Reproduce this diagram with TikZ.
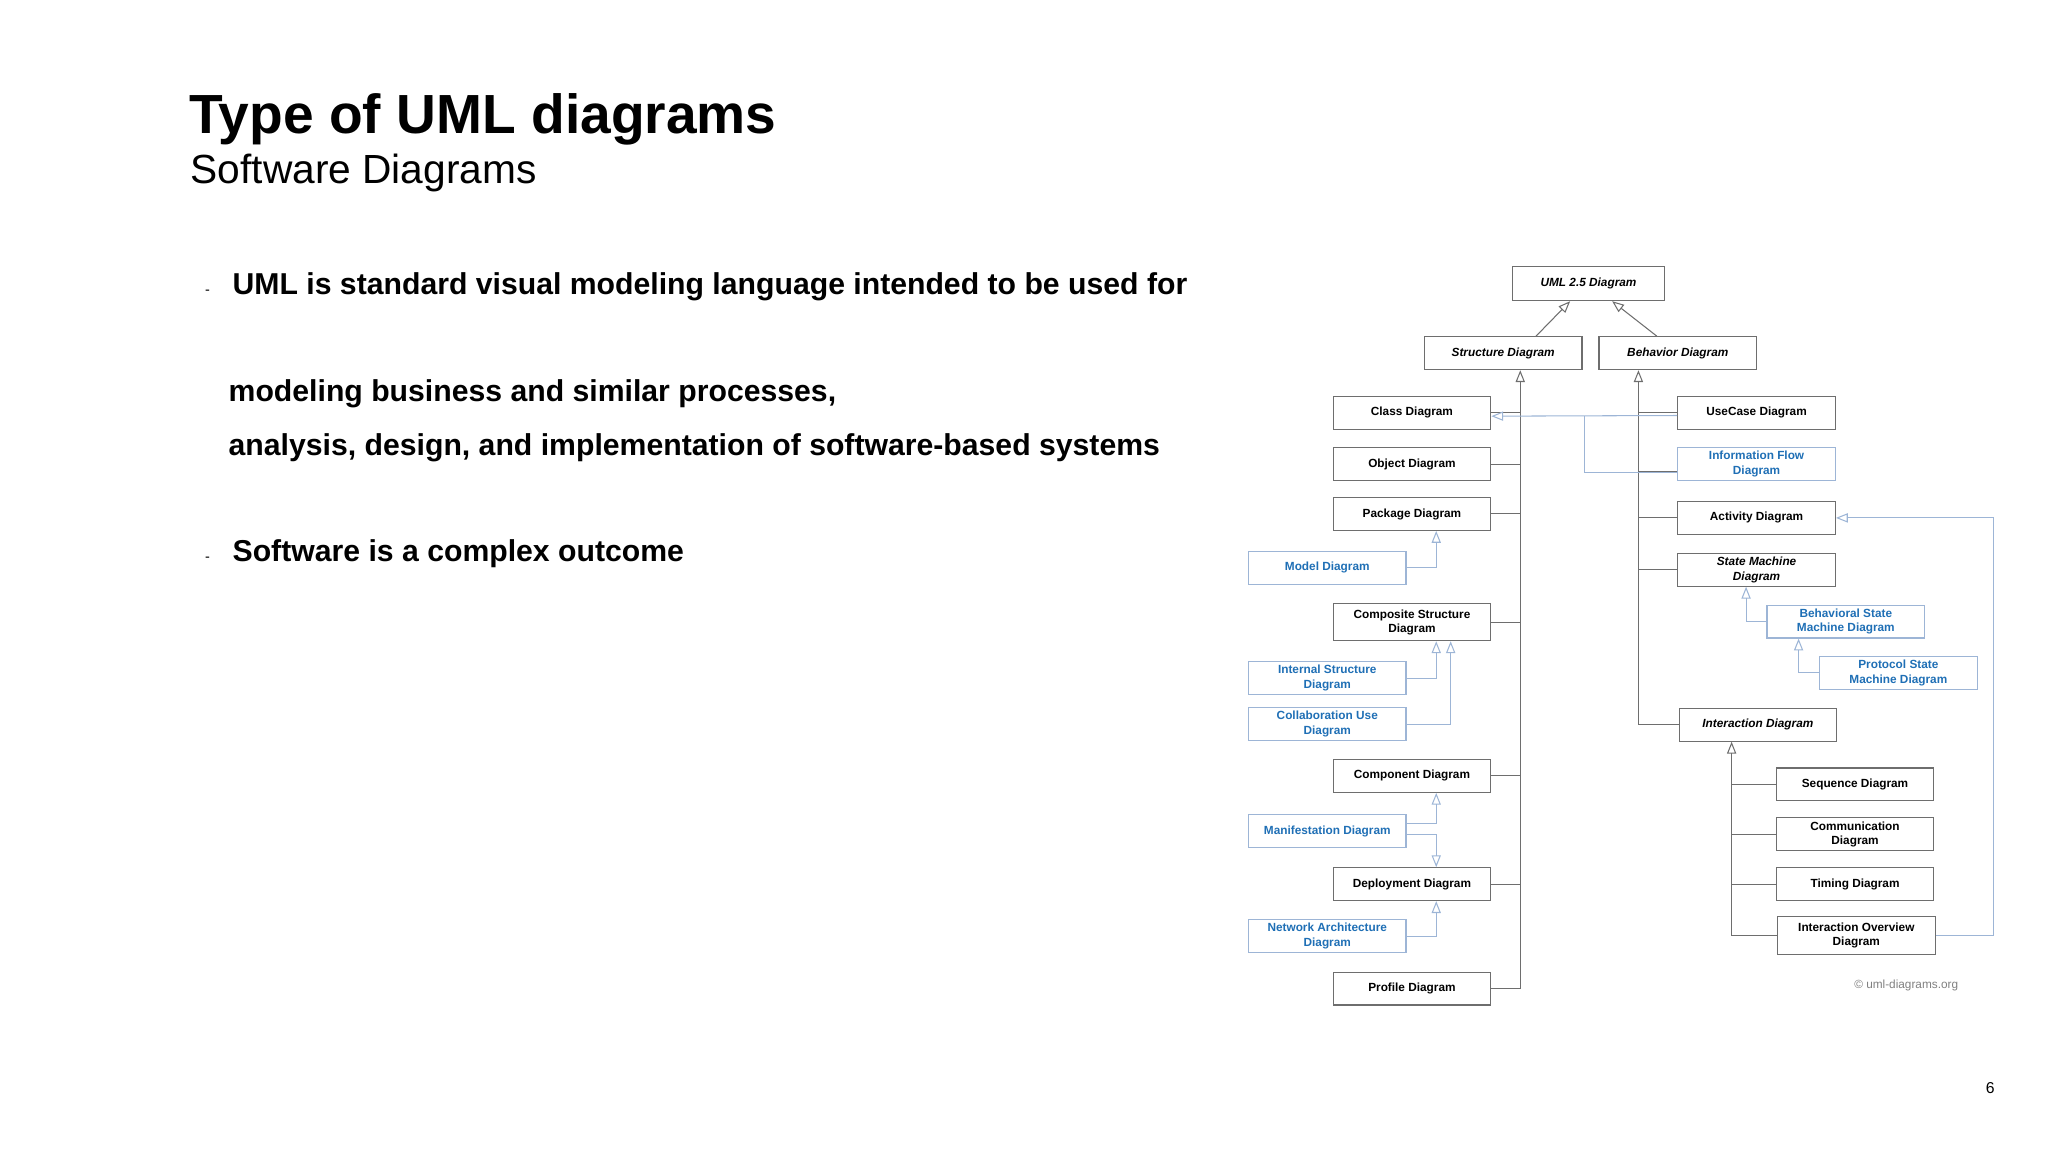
\documentclass[tikz,border=0pt]{standalone}
\usepackage{fontspec}
\setmainfont{Liberation Sans}
\usetikzlibrary{arrows.meta}
\definecolor{umlblue}{HTML}{1F6FB5}
\definecolor{umlline}{HTML}{6E6E6E}
\definecolor{umllight}{HTML}{9DB5D6}
\tikzset{
  box/.style={draw=umlline, line width=0.9pt, minimum width=120pt, minimum height=25pt, inner sep=1pt, align=center, font=\fontsize{9}{11}\selectfont\bfseries},
  sbox/.style={box, draw=umllight, text=umlblue},
  ibox/.style={box, font=\fontsize{9}{11}\selectfont\bfseries\itshape},
  link/.style={draw=umlline, line width=0.8pt},
  gen/.style={link, -{Triangle[open,length=9pt,width=7pt]}},
  blink/.style={draw=umllight, line width=0.8pt},
  bgen/.style={blink, -{Triangle[open,length=9pt,width=7pt]}},
}
\begin{document}
\begin{tikzpicture}[x=1pt,y=-1pt]
\useasboundingbox (0,0) rectangle (1560,877.5);
% slide text
\node[anchor=base west, inner sep=0, font=\fontsize{42}{48}\selectfont\bfseries] (title) at (144,102) {Type of UML diagrams};
\node[anchor=base west, inner sep=0, font=\fontsize{31}{36}\selectfont] (subtitle) at (145,140) {Software Diagrams};
\node[anchor=base west, inner sep=0, font=\fontsize{11}{13}\selectfont] (d1) at (156,224) {-};
\node[anchor=base west, inner sep=0, font=\fontsize{23}{28}\selectfont\bfseries] (p1) at (177,224) {UML is standard visual modeling language intended to be used for};
\node[anchor=base west, inner sep=0, font=\fontsize{23}{28}\selectfont\bfseries] (p2) at (174,306) {modeling business and similar processes,};
\node[anchor=base west, inner sep=0, font=\fontsize{23}{28}\selectfont\bfseries] (p3) at (174,347) {analysis, design, and implementation of software-based systems};
\node[anchor=base west, inner sep=0, font=\fontsize{11}{13}\selectfont] (d2) at (156,428) {-};
\node[anchor=base west, inner sep=0, font=\fontsize{23}{28}\selectfont\bfseries] (p4) at (177,428) {Software is a complex outcome};
\node[font=\fontsize{12}{14}\selectfont] (page) at (1516,829) {6};

% diagram boxes
\node[ibox, minimum width=116pt, minimum height=26pt] (UML) at (1210,216) {UML 2.5 Diagram};
\node[ibox] (Structure) at (1145,269) {Structure Diagram};
\node[ibox] (Behavior) at (1278,269) {Behavior Diagram};

\node[box] (Class) at (1075.5,314.5) {Class Diagram};
\node[box] (Object) at (1075.5,353.5) {Object Diagram};
\node[box] (Package) at (1075.5,391.5) {Package Diagram};
\node[sbox] (Model) at (1011,432.5) {Model Diagram};
\node[box, minimum height=28pt] (Composite) at (1075.5,474) {Composite Structure\\Diagram};
\node[sbox] (Internal) at (1011,516.5) {Internal Structure\\Diagram};
\node[sbox] (Collab) at (1011,551.5) {Collaboration Use\\Diagram};
\node[box] (Component) at (1075.5,591) {Component Diagram};
\node[sbox] (Manifest) at (1011,633) {Manifestation Diagram};
\node[box] (Deploy) at (1075.5,673.5) {Deployment Diagram};
\node[sbox] (Network) at (1011,713) {Network Architecture\\Diagram};
\node[box] (Profile) at (1075.5,753) {Profile Diagram};

\node[box] (UseCase) at (1338,314.5) {UseCase Diagram};
\node[sbox] (InfoFlow) at (1338,353.5) {Information Flow\\Diagram};
\node[box] (Activity) at (1338,394.5) {Activity Diagram};
\node[ibox] (State) at (1338,434) {State Machine\\Diagram};
\node[sbox] (BehState) at (1406,473.5) {Behavioral State\\Machine Diagram};
\node[sbox] (Protocol) at (1446,512.5) {Protocol State\\Machine Diagram};
\node[ibox] (Interaction) at (1339,552) {Interaction Diagram};
\node[box] (Sequence) at (1413,597.5) {Sequence Diagram};
\node[box] (Comm) at (1413,635.5) {Communication\\Diagram};
\node[box] (Timing) at (1413,673.5) {Timing Diagram};
\node[box, minimum height=29pt] (Overview) at (1414,712.5) {Interaction Overview\\Diagram};
\node[text=gray, font=\fontsize{9}{11}\selectfont\rmfamily] (copy) at (1452,751) {\textcopyright{} uml-diagrams.org};

% generalizations
\coordinate (sb) at (1158,282);
\coordinate (bb) at (1248,282);
\coordinate (ib) at (1319,565);
\draw[gen] ([xshift=25]Structure.north) -- ([xshift=-14]UML.south);
\draw[gen] ([xshift=-16]Behavior.north) -- ([xshift=18]UML.south);
\draw[gen] (Profile.east) -| (sb);
\foreach \n in {Class,Object,Package,Composite,Component,Deploy}
  \draw[link] (\n.east) -- (\n.east -| sb);
\draw[gen] (Interaction.west) -| (bb);
\foreach \n in {UseCase,Activity,State}
  \draw[link] (\n.west) -- (\n.west -| bb);
\draw[link] ([yshift=-6]InfoFlow.west) -- ([yshift=-6]InfoFlow.west -| bb);
\draw[gen] (Overview.west) -| (ib);
\foreach \n in {Sequence,Comm,Timing}
  \draw[link] (\n.west) -- (\n.west -| ib);

% blue links
\coordinate (jn) at (1207,317);
\draw[bgen] ([yshift=-2]UseCase.west) -- (Class.east |- jn);
\draw[blink] ([yshift=-6.5]InfoFlow.west) -| (jn);
\draw[bgen] (Model.east) -| ([xshift=18.5]Package.south);
\draw[bgen] (Internal.east) -| ([xshift=18.5]Composite.south);
\draw[bgen] (Collab.east) -| ([xshift=29.5]Composite.south);
\draw[bgen] ([yshift=6]Manifest.east) -| ([xshift=18.5]Component.south);
\draw[bgen] ([yshift=-3]Manifest.east) -| ([xshift=18.5]Deploy.north);
\draw[bgen] (Network.east) -| ([xshift=18.5]Deploy.south);
\draw[bgen] (BehState.west) -| ([xshift=-8]State.south);
\draw[bgen] (Protocol.west) -| ([xshift=-36]BehState.south);
\draw[bgen] (Overview.east) -| ([xshift=120]Activity.east) -- (Activity.east);
\end{tikzpicture}
\end{document}
